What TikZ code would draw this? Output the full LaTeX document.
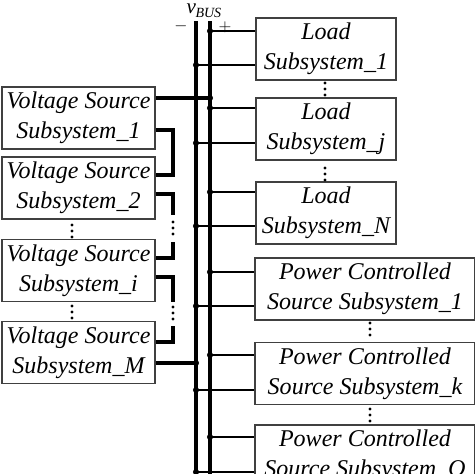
\documentclass[tikz,border=0pt]{standalone}
\usepackage{fontspec}
\setmainfont{Liberation Serif}
\usetikzlibrary{calc,positioning}

\begin{document}
\begin{tikzpicture}[x=0.03cm,y=-0.03cm,
    subbox/.style={draw=black!75, line width=0.9pt, rectangle, align=center, inner sep=0pt,
        minimum height=1.86cm, font=\fontsize{20.5}{26}\selectfont\itshape},
    vsbox/.style={subbox, minimum width=4.59cm},
    ldbox/.style={subbox, minimum width=4.2cm},
    pcbox/.style={subbox, minimum width=6.6cm},
    bus/.style={line width=3.6pt},
    tap/.style={line width=1.3pt},
    ser/.style={line width=2.6pt}]

    \useasboundingbox (0,0) rectangle (474,474);

    % Bus
    \coordinate (mtop) at (196,21);
    \coordinate (mbot) at (196,476);
    \coordinate (ptop) at (210,21);
    \coordinate (pbot) at (210,476);
    \draw[bus] (mtop) -- (mbot);
    \draw[bus] (ptop) -- (pbot);
    \node[inner sep=0pt] (vbus) at (204,11) {\fontsize{18}{19}\selectfont\textit{v}\kern-0.5pt\raisebox{-0.2em}{\fontsize{12}{13}\selectfont\textit{BUS}}};
    \node[inner sep=0pt] (minus) at (181,26) {\fontsize{15}{16}\selectfont $-$};
    \node[inner sep=0pt] (plus) at (225,27) {\fontsize{15}{16}\selectfont $+$};

    % Right side
    \node[ldbox] (ld1) at (326,49) {Load\\Subsystem\_1};
    \node[ldbox] (ldj) at (326,129) {Load\\Subsystem\_j};
    \node[ldbox] (ldN) at (326,213) {Load\\Subsystem\_N};
    \node[pcbox] (pc1) at (365,289) {Power Controlled\\Source Subsystem\_1};
    \node[pcbox] (pck) at (365,373.5) {Power Controlled\\Source Subsystem\_k};
    \node[pcbox] (pcQ) at (365,456) {Power Controlled\\Source Subsystem\_Q};

    \foreach \n/\p/\m in {ld1/31/65, ldj/108/143, ldN/192/226, pc1/272/306, pck/355/390, pcQ/437/472} {
        \coordinate (p\n) at (210,\p);
        \coordinate (m\n) at (196,\m);
        \draw[tap] (p\n) -- (p\n -| \n.west);
        \draw[tap] (m\n) -- (m\n -| \n.west);
        \fill (p\n) circle[radius=2.6pt];
        \fill (m\n) circle[radius=2.6pt];
    }

    % Left side
    \node[vsbox] (vs1) at (78.5,118) {Voltage Source\\Subsystem\_1};
    \node[vsbox] (vs2) at (78.5,188) {Voltage Source\\Subsystem\_2};
    \node[vsbox] (vsi) at (78.5,270.5) {Voltage Source\\Subsystem\_i};
    \node[vsbox] (vsM) at (78.5,352.5) {Voltage Source\\Subsystem\_M};

    \coordinate (pvs) at (210,98);
    \coordinate (mvs) at (196,363);
    \draw[ser] (vs1.east |- pvs) -- (pvs);
    \draw[ser] (vsM.east |- mvs) -- (mvs);
    \fill (pvs) circle[radius=2.6pt];
    \fill (mvs) circle[radius=2.6pt];

    % Series chain
    \draw[ser] (vs1.east |- 0,130) -| (173,175) -- (vs2.east |- 0,175);
    \draw[ser] (vs2.east |- 0,194) -| (173,215);
    \draw[ser] (173,242) |- (vsi.east |- 0,258);
    \draw[ser] (vsi.east |- 0,277) -| (173,302);
    \draw[ser] (173,326) |- (vsM.east |- 0,342);

    % Dots
    \foreach \x/\y in {173/222, 173/307, 72/225, 72/306, 325/83, 325/168, 370/323, 370/409}
        \foreach \d in {0,6,12}
            \fill (\x,\y+\d) circle[radius=1.3pt];

\end{tikzpicture}
\end{document}
